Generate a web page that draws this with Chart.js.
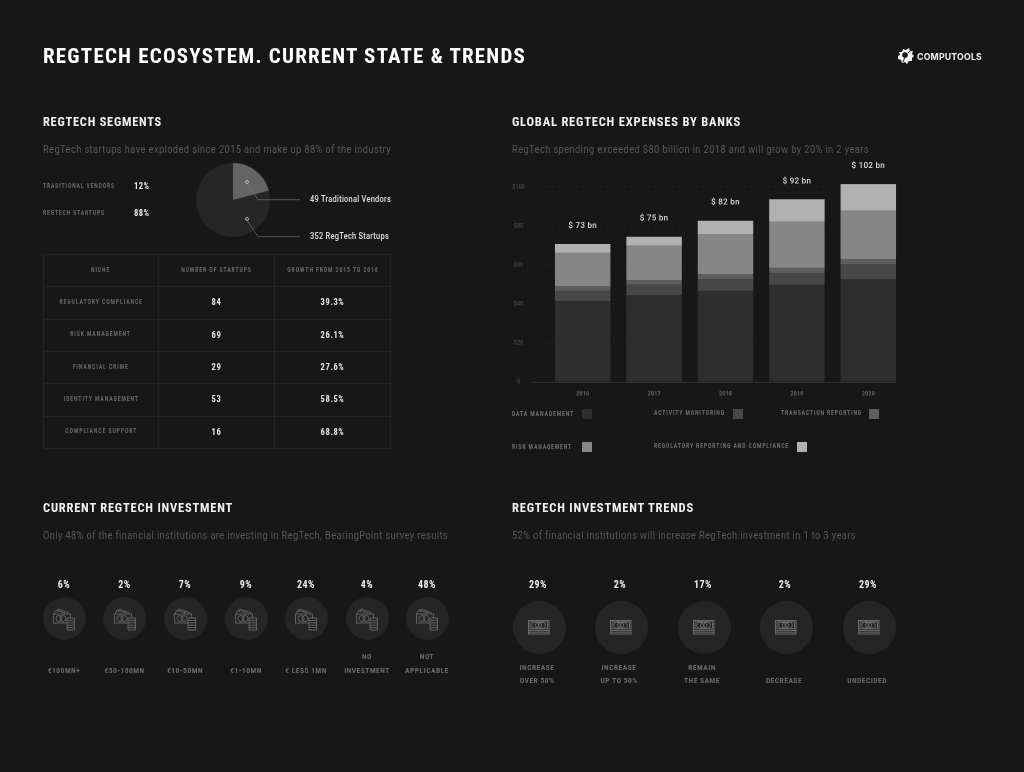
<!DOCTYPE html>
<html><head><meta charset="utf-8">
<script src="https://cdn.jsdelivr.net/npm/chart.js@4"></script>
<style>
html,body{margin:0;padding:0;background:#171717;width:1024px;height:772px;overflow:hidden}
#page{position:relative;width:1024px;height:772px;overflow:hidden;font-family:Roboto,sans-serif;will-change:transform;filter:blur(.4px)}
.t{position:absolute;white-space:nowrap;line-height:1;transform-origin:left center}
canvas{position:absolute}
table{position:absolute;left:43px;top:254px;width:347px;height:194px;border-collapse:collapse;table-layout:fixed}
tr{height:32.33px}
td{border:1px solid #232323;padding:0 0 1px;text-align:center;font-family:"Roboto Condensed","Liberation Sans Narrow",Roboto,sans-serif;font-weight:700;line-height:1;white-space:nowrap}
td span{display:inline-block}
td.h{color:#666;font-size:7px;letter-spacing:1.05px}
td.h span{transform:scaleX(.83)}
td.v{color:#e6e6e6;font-size:8.5px;letter-spacing:.6px}
.c{position:absolute;border-radius:50%;background:#252525}
svg{position:absolute;overflow:visible}
</style></head><body><div id="page">
<canvas id="pie" style="left:186px;top:153px;width:94px;height:94px"></canvas>
<canvas id="bars" style="left:500px;top:140px;width:404px;height:262px"></canvas>
<table id="tbl"></table>
</div>
<script>
const COND='"Roboto Condensed","Liberation Sans Narrow",Roboto,sans-serif';
const segmentNames=['Traditional Vendors','RegTech Startups'];
const segmentShares=[21,79];
const segmentPercent=['12%','88%'];
const segmentCounts=['49 Traditional Vendors','352 RegTech Startups'];
const tableHead=['NICHE','NUMBER OF STARTUPS','GROWTH FROM 2015 TO 2018'];
const niches=['REGULATORY COMPLIANCE','RISK MANAGEMENT','FINANCIAL CRIME','IDENTITY MANAGEMENT','COMPLIANCE SUPPORT'];
const nicheStartups=['84','69','29','53','16'];
const nicheGrowth=['39.3%','26.1%','27.6%','58.5%','68.8%'];
const years=['2016','2017','2018','2019','2020'];
const dataManagement=[41.5,44.6,46.7,49.9,52.8];
const activityMonitoring=[5.2,5.3,6.1,6.0,7.7];
const transactionReporting=[2.5,2.4,2.4,2.6,2.6];
const riskManagement=[17.0,17.6,20.7,23.7,24.8];
const regulatoryReporting=[4.6,4.6,6.8,11.5,13.6];
const totalLabels=['$ 73 bn','$ 75 bn','$ 82 bn','$ 92 bn','$ 102 bn'];
const yTicks=['0','$20','$40','$60','$80','$100'];
const investLabels=[['€100MN+'],['€50-100MN'],['€10-50MN'],['€1-10MN'],['€ LESS 1MN'],['NO','INVESTMENT'],['NOT','APPLICABLE']];
const investPercent=['6%','2%','7%','9%','24%','4%','48%'];
const trendLabels=[['INCREASE','OVER 50%'],['INCREASE','UP TO 50%'],['REMAIN','THE SAME'],['DECREASE'],['UNDECIDED']];
const trendPercent=['29%','2%','17%','2%','29%'];

const page=document.getElementById('page');
function T(s,x,y,o){o=o||{};
  const e=document.createElement('div');e.className='t';e.textContent=s;
  e.style.cssText+=`font-size:${o.size||7}px;color:${o.color||'#666'};font-weight:${o.weight||400};letter-spacing:${o.ls||0}px;font-family:${o.family||(o.cond?COND:'Roboto,sans-serif')};`;
  page.appendChild(e);
  const r=e.getBoundingClientRect();let w=r.width,sx=1;
  if(o.w){sx=o.w/w;w=o.w;}
  const left=o.center?x-w/2:x;
  e.style.left=left+'px';e.style.top=(y-r.height/2)+'px';
  if(sx!==1)e.style.transform=`scaleX(${sx})`;
  return e;
}
function S(html,x,y,w,h,vb){const n=document.createElementNS('http://www.w3.org/2000/svg','svg');
  n.setAttribute('width',w);n.setAttribute('height',h);n.setAttribute('viewBox',vb||`0 0 ${w} ${h}`);
  n.style.left=x+'px';n.style.top=y+'px';n.innerHTML=html;page.appendChild(n);return n;}

// headings
T('REGTECH ECOSYSTEM. CURRENT STATE & TRENDS',43,56.5,{size:21,weight:700,color:'#fff',ls:1.2,cond:true,w:483});
const heads=[['REGTECH SEGMENTS',43,121,119],['GLOBAL REGTECH EXPENSES BY BANKS',512,121,229],['CURRENT REGTECH INVESTMENT',43,507,190],['REGTECH INVESTMENT TRENDS',512,507,182]];
heads.forEach(h=>T(h[0],h[1],h[2],{size:13,weight:700,color:'#f0f0f0',ls:.8,cond:true,w:h[3]}));
const subs=[['RegTech startups have exploded since 2015 and make up 88% of the industry',43,150,348],['RegTech spending exceeded $80 billion in 2018 and will grow by 20% in 2 years',512,150,357],['Only 48% of the financial institutions are investing in RegTech, BearingPoint survey results',43,536,405],['52% of financial institutions will increase RegTech investment in 1 to 3 years',512,536,344]];
subs.forEach(h=>T(h[0],h[1],h[2],{size:10,color:'#5a5a5a',ls:.45,w:h[3]}));

// logo
S('<path d="M2 9 L4 8 L3 5 L6 5 L7 2 L10 3 L13 1 L14 4 L17 4 L16 7 L18 9 L16 11 L16 14 L13 14 L11 17 L9 15 L6 16 L5 13 L2 12 Z" fill="#efefef"/><circle cx="9" cy="8" r="2.8" fill="#171717"/><path d="M9 10 L7 15 M12 6 L15 3" stroke="#171717" stroke-width=".9"/>',896,47,18,17);
T('COMPUTOOLS',917,56,{size:9,weight:700,color:'#f0f0f0',ls:.2,w:65,family:'Inter,sans-serif'});

// left summary
[['TRADITIONAL VENDORS',186,72],['REGTECH STARTUPS',213.5,62]].forEach((r,i)=>{
  T(r[0],43,r[1],{size:7,weight:700,cond:true,ls:1,color:'#666',w:r[2]});
  T(segmentPercent[i],134,r[1],{size:8.5,weight:700,cond:true,ls:.5,color:'#e6e6e6'});
});
T(segmentCounts[0],310,199.5,{size:8.5,weight:500,color:'#e0e0e0',ls:.3,w:81});
T(segmentCounts[1],310,236.5,{size:8.5,weight:500,color:'#e0e0e0',ls:.3,w:79});

// table
const tbl=document.getElementById('tbl');
let html='<colgroup><col style="width:115px"><col style="width:116px"><col style="width:116px"></colgroup>';
html+='<tr>'+tableHead.map(h=>`<td class="h"><span>${h}</span></td>`).join('')+'</tr>';
niches.forEach((n,i)=>{html+=`<tr><td class="h"><span>${n}</span></td><td class="v"><span>${nicheStartups[i]}</span></td><td class="v"><span>${nicheGrowth[i]}</span></td></tr>`});
tbl.innerHTML=html;

// legend
const seriesNames=['DATA MANAGEMENT','ACTIVITY MONITORING','TRANSACTION REPORTING','RISK MANAGEMENT','REGULATORY REPORTING AND COMPLIANCE'];
const seriesColors=['#2e2e2e','#474747','#5e5e5e','#868686','#b1b1b1'];
const legendPos=[[512,414,582,62],[654,413.5,733,71],[781,413,869,81],[512,447,582,60],[654,446,797,135]];
seriesNames.forEach((n,i)=>{const p=legendPos[i];
  T(n,p[0],p[1],{size:7,weight:700,cond:true,ls:1,color:'#6a6a6a',w:p[3]});
  const b=document.createElement('div');
  b.style.cssText=`position:absolute;left:${p[2]}px;top:${i<3?409:442}px;width:9.5px;height:9.5px;background:${seriesColors[i]}`;
  page.appendChild(b);
});

// icons
const ICON1='<g fill="none" stroke="#6e6e6e" stroke-width=".8"><path d="M1 6 L3 2 L12 5 M4 4 L5 1 L16 5"/><rect x="0.5" y="6" width="17" height="9"/><circle cx="6" cy="10.5" r="3"/><circle cx="10" cy="10.5" r="3"/><path d="M14 10 h7.5 v12 h-7.5 z" fill="#252525"/><path d="M14 12.4 h7.5 M14 14.8 h7.5 M14 17.2 h7.5 M14 19.6 h7.5"/></g>';
const ICON2='<g fill="none" stroke="#7a7a7a" stroke-width=".8"><rect x=".5" y=".5" width="20.5" height="13.5"/><rect x="2" y="1.8" width="17.5" height="7"/><ellipse cx="7" cy="5.3" rx="3.4" ry="3.2"/><ellipse cx="14" cy="5.3" rx="3.4" ry="3.2"/><circle cx="10.5" cy="5.3" r="3.2"/><path d="M.5 10.5 H21 M.5 12.2 H21" /></g>';
const investX=[64,124.5,185,246,306,367,427];
investX.forEach((x,i)=>{
  T(investPercent[i],x,584.5,{size:10,weight:700,cond:true,ls:.5,color:'#eee',center:true});
  const c=document.createElement('div');c.className='c';
  c.style.cssText=`left:${x-21.5}px;top:596.5px;width:43px;height:43px`;page.appendChild(c);
  S(ICON1,x-11,608,22,22);
  const L=investLabels[i];
  L.forEach((s,j)=>T(s,x,671-(L.length-1-j)*14,{size:7.5,weight:700,cond:true,ls:.5,color:'#6a6a6a',center:true}));
});
const trendX=[539,621,704,786,869];
trendX.forEach((x,i)=>{
  T(trendPercent[i],x-1,584.5,{size:10,weight:700,cond:true,ls:.5,color:'#eee',center:true});
  const c=document.createElement('div');c.className='c';
  c.style.cssText=`left:${x-26.5}px;top:601px;width:53px;height:53px`;page.appendChild(c);
  S(ICON2,x-11,620,22,15);
  const L=trendLabels[i];
  L.forEach((s,j)=>T(s,x-2,681-(L.length-1-j)*13,{size:7.5,weight:700,cond:true,ls:.5,color:'#6a6a6a',center:true}));
});

// leader lines
S(`<g fill="none" stroke="#777" stroke-width=".7"><path d="M247.5 184 L258 199.7 H300"/><path d="M247.5 221 L258 236.7 H300"/></g>
<g fill="none" stroke="#cfcfcf" stroke-width=".8"><circle cx="247" cy="182" r="1.5"/><circle cx="247" cy="219" r="1.5"/></g>`,0,0,1024,772,'0 0 1024 772');

Chart.defaults.devicePixelRatio=2;
new Chart(document.getElementById('pie'),{type:'pie',
  data:{labels:segmentNames,datasets:[{data:segmentShares,backgroundColor:['#646464','#262626'],borderWidth:0}]},
  options:{responsive:false,animation:false,layout:{padding:10},plugins:{legend:{display:false},tooltip:{enabled:false}}}});

const totalsPlugin={id:'totals',
  beforeDatasetsDraw(ch){const y=ch.scales.y,a=ch.chartArea,g=ch.ctx;
    g.save();g.fillStyle='#171717';g.fillRect(a.right-8,a.top,9,a.height+1);
    g.strokeStyle='#2c2c2c';g.lineWidth=1;g.beginPath();
    g.moveTo(a.left-14,y.getPixelForValue(0)+.5);g.lineTo(a.right-8,y.getPixelForValue(0)+.5);g.stroke();g.restore();},
  afterDatasetsDraw(ch){const g=ch.ctx,last=ch.getDatasetMeta(ch.data.datasets.length-1);
    g.save();g.font='500 8px Roboto';g.fillStyle='#e0e0e0';g.textAlign='center';g.textBaseline='middle';
    try{g.letterSpacing='.3px'}catch(e){}
    totalLabels.forEach((s,i)=>{const b=last.data[i];g.fillText(s,b.x,b.y-18);});g.restore();}
};
const sets=[dataManagement,activityMonitoring,transactionReporting,riskManagement,regulatoryReporting];
const tickFam='"Roboto Condensed","Liberation Sans Narrow",Roboto';
const noPad=s=>{s.paddingTop=s.paddingBottom=s.paddingLeft=s.paddingRight=0};
new Chart(document.getElementById('bars'),{type:'bar',plugins:[totalsPlugin],
  data:{labels:years,datasets:sets.map((d,i)=>({label:seriesNames[i],data:d,backgroundColor:seriesColors[i],borderWidth:0,barPercentage:.777,categoryPercentage:1}))},
  options:{responsive:false,animation:false,layout:{padding:{top:8,left:0,right:0,bottom:0}},
    plugins:{legend:{display:false},tooltip:{enabled:false}},
    scales:{
      x:{stacked:true,afterFit:s=>{s.height=20;noPad(s)},grid:{display:false},border:{display:false},
        ticks:{color:'#5e5e5e',font:{size:6.5,weight:'bold',family:tickFam},padding:0,maxRotation:0}},
      y:{stacked:true,min:0,max:120,afterFit:s=>{s.width=47;noPad(s)},
        afterBuildTicks:s=>{s.ticks=s.ticks.filter(t=>t.value<=100)},
        border:{display:false,dash:[1,5]},
        grid:{color:'#2f2f2f',tickLength:14,tickColor:'#2f2f2f',tickBorderDash:[1,5],lineWidth:1},
        ticks:{stepSize:20,color:'#555',font:{size:6.5,family:tickFam},padding:8,align:'center',crossAlign:'center',
          callback:(v)=>yTicks[v/20]}}
    }}});
</script></body></html>
